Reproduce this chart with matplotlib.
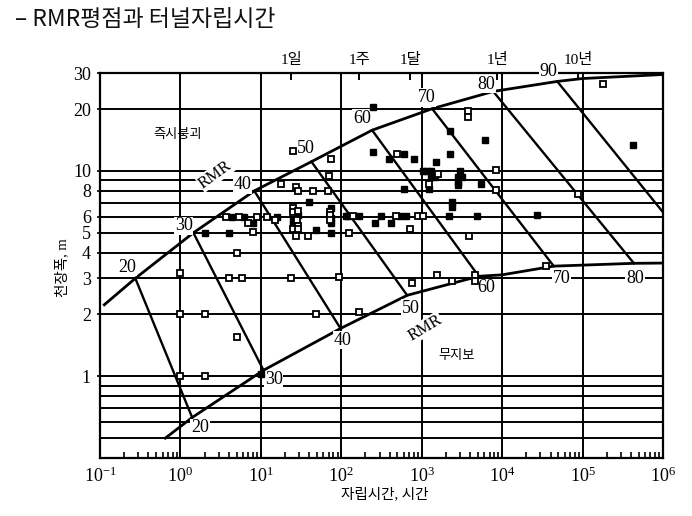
import matplotlib
matplotlib.use("Agg")
import matplotlib.pyplot as plt
from matplotlib.ticker import FixedLocator, LogLocator, NullFormatter, NullLocator

plt.rcParams['font.family'] = ['Liberation Serif', 'Noto Sans CJK KR']
plt.rcParams['mathtext.fontset'] = 'custom'
plt.rcParams['mathtext.rm'] = 'Liberation Serif'

# boundary curves (stand-up time in hours, span in m)
collapse_t = [0.113, 0.275, 1.45, 8.3, 42.6, 242, 1350, 7760, 48500, 1e5, 1e6]
collapse_span = [2.23, 3.0, 5.0, 8.0, 11.1, 15.8, 20.1, 24.4, 27.3, 28.2, 29.5]
unsupported_t = [0.65, 1.4, 10.8, 98, 660, 5130, 1e4, 43900, 436000, 1e6]
unsupported_span = [0.5, 0.63, 1.07, 1.71, 2.48, 3.07, 3.12, 3.44, 3.55, 3.56]

# RMR iso-lines
rmr_values = [20, 30, 40, 50, 60, 70, 80, 90]
rmr_upper_t = [0.275, 1.45, 8.3, 42.6, 242, 1350, 7760, 48500]
rmr_upper_span = [3.0, 5.0, 8.0, 11.1, 15.8, 20.1, 24.4, 27.3]
rmr_lower_t = [1.4, 10.8, 98, 660, 5130, 43900, 436000, 3e6]
rmr_lower_span = [0.63, 1.07, 1.71, 2.48, 3.07, 3.44, 3.55, 3.7]

# label positions
upper_label_t = [0.22, 1.1, 5.9, 36, 180, 1150, 6400, 38000]
upper_label_span = [3.4, 5.4, 8.6, 12.9, 18.0, 22.8, 26.5, 30.6]
lower_label_t = [1.75, 14.5, 105, 740, 6400, 55000, 450000]
lower_label_span = [0.56, 0.96, 1.5, 2.15, 2.7, 3.0, 3.0]

# case histories
filled_t = [2, 4, 4.4, 6.2, 8, 10, 16, 40, 29, 25, 25, 48, 75, 75, 75, 75,
            115, 120, 168, 313, 531, 630, 2190, 4900, 266, 417, 2400, 2400,
            245, 2250, 6200, 245, 390, 600, 800, 1500, 2250, 1040, 1150, 1300,
            1300, 1450, 3000, 2800, 3200, 2800, 2800, 5400, 1230, 600, 420000, 27000]
filled_span = [5.0, 5.0, 6.0, 6.0, 5.6, 1.03, 6.0, 7.1, 6.1, 5.85, 5.5, 5.15, 6.6, 5.9, 5.6, 5.0,
               6.05, 6.05, 6.05, 6.05, 6.05, 6.05, 6.05, 6.05, 5.6, 5.6, 7.1, 6.7,
               20.5, 15.6, 14.1, 12.4, 11.5, 12.1, 11.5, 11.0, 12.1, 10, 10, 10,
               9.35, 9.35, 10, 9.35, 9.35, 8.8, 8.5, 8.6, 8.2, 8.15, 13.4, 6.1]
open_t = [1, 4, 5.9, 24, 95, 1, 2, 48, 165, 5, 1, 2, 5, 3.7, 5.4, 9, 12, 15, 7, 8,
          25, 75, 70, 18, 27, 29, 45, 69, 25, 25, 29, 28, 29, 25, 29, 27, 39,
          72, 72, 72, 138, 473, 900, 1040, 126, 708, 3900, 1550, 750, 2350, 4600, 4600,
          3800, 3800, 500, 1580, 1230, 8500, 8500, 180000, 88000, 35000]
open_span = [3.2, 3.0, 3.0, 3.0, 3.05, 2.0, 2.0, 2.0, 2.05, 1.55, 1.0, 1.0, 4.0, 6.0, 6.0, 6.0, 6.0, 5.8, 5.6, 5.05,
             12.5, 11.5, 9.4, 8.6, 8.4, 8.0, 8.0, 8.0, 6.6, 6.3, 6.4, 5.75, 5.4, 5.2, 5.2, 4.85, 4.85,
             6.3, 6.1, 5.75, 6.05, 6.05, 6.05, 6.05, 5.0, 5.2, 4.85, 3.1, 2.85, 2.9, 3.1, 2.9,
             19.5, 18.3, 12.1, 9.7, 8.6, 10.1, 8.1, 26.4, 7.7, 3.45]

span_gridlines = [0.5, 0.6, 0.7, 0.8, 0.9, 1, 2, 3, 4, 5, 6, 7, 8, 9, 10, 20]
span_ticks = [1, 2, 3, 4, 5, 6, 8, 10, 20, 30]
time_gridlines = [1, 10, 100, 1000, 1e4, 1e5]
top_ticks = [24, 168, 720, 8760, 87600]
top_labels = ['1일', '1주', '1달', '1년', '10년']

fig = plt.figure(figsize=(6.92, 5.16), dpi=100)
ax = fig.add_axes([0.1445, 0.1124, 0.8135, 0.7461])
ax.set_xscale('log')
ax.set_yscale('log')
ax.set_xlim(0.1, 1e6)
ax.set_ylim(0.4, 30)

for s in span_gridlines:
    ax.axhline(s, color='black', lw=1.4, zorder=1)
for t in time_gridlines:
    ax.axvline(t, color='black', lw=1.4, zorder=1)

ax.plot(collapse_t, collapse_span, color='black', lw=2.0, zorder=2)
ax.plot(unsupported_t, unsupported_span, color='black', lw=2.0, zorder=2)
for i in range(len(rmr_values)):
    ax.plot([rmr_upper_t[i], rmr_lower_t[i]], [rmr_upper_span[i], rmr_lower_span[i]],
            color='black', lw=1.7, zorder=2)

box = dict(facecolor='white', edgecolor='none', pad=0.5)
for i, v in enumerate(rmr_values):
    ax.text(upper_label_t[i], upper_label_span[i], str(v), fontsize=13, ha='center', va='center',
            bbox=box, zorder=3, clip_on=False)
for i, v in enumerate(rmr_values[:len(lower_label_t)]):
    ax.text(lower_label_t[i], lower_label_span[i], str(v), fontsize=13, ha='center', va='center',
            bbox=box, zorder=3)
ax.text(2.7, 9.6, 'RMR', fontsize=12, rotation=36, ha='center', va='center', bbox=box, zorder=3)
ax.text(1100, 1.72, 'RMR', fontsize=12, rotation=31, ha='center', va='center', bbox=box, zorder=3)
ax.text(0.91, 15, '즉시붕괴', fontsize=9.5, ha='center', va='center', zorder=3)
ax.text(2700, 1.25, '무지보', fontsize=9.5, ha='center', va='center', zorder=3)

ax.plot(filled_t, filled_span, 's', color='black', ms=4.6, zorder=4)
ax.plot(open_t, open_span, 's', mfc='white', mec='black', mew=1.3, ms=4.4, zorder=4)

for sp in ax.spines.values():
    sp.set_linewidth(1.6)

ax.xaxis.set_major_locator(LogLocator(base=10, numticks=10))
ax.xaxis.set_minor_locator(LogLocator(base=10, subs=range(2, 10), numticks=20))
ax.xaxis.set_minor_formatter(NullFormatter())
ax.tick_params(axis='x', which='major', direction='in', length=6, width=1.4, labelsize=13, pad=6)
ax.tick_params(axis='x', which='minor', direction='in', length=4, width=1.2)
ax.yaxis.set_major_locator(FixedLocator(span_ticks))
ax.yaxis.set_minor_locator(NullLocator())
ax.set_yticklabels([str(s) for s in span_ticks])
ax.tick_params(axis='y', direction='inout', length=5, width=1.2, labelsize=13, pad=4)

top = ax.twiny()
top.set_xscale('log')
top.set_xlim(ax.get_xlim())
top.xaxis.set_major_locator(FixedLocator(top_ticks))
top.xaxis.set_minor_locator(NullLocator())
top.set_xticklabels(top_labels)
top.tick_params(axis='x', direction='in', length=5, width=1.4, labelsize=11, pad=4)
for sp in top.spines.values():
    sp.set_visible(False)

fig.text(62 / 692, 1 - 268 / 516, '천장폭, m', rotation=90, fontsize=10.5, ha='center', va='center')
fig.text(385 / 692, 1 - 494 / 516, '자립시간, 시간', fontsize=10.5, ha='center', va='center')
fig.text(0.022, 0.963, '– RMR평점과 터널자립시간', fontsize=16.5, ha='left', va='center',
         family=['Noto Sans CJK KR', 'DejaVu Sans'], color='#111111')

fig.savefig('out.png', dpi=100)
